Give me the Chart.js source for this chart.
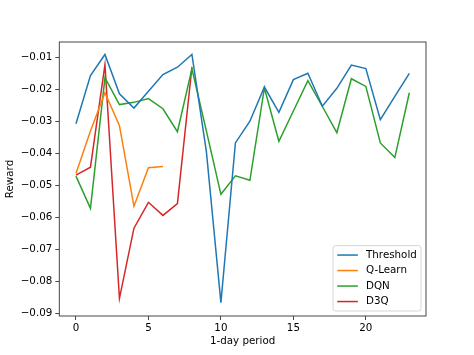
<!DOCTYPE html>
<html>
<head>
<meta charset="utf-8">
<script src="https://cdn.jsdelivr.net/npm/chart.js@4/dist/chart.umd.min.js"></script>
<style>
html,body{margin:0;padding:0;background:#fff;}
canvas{display:block;}
</style>
</head>
<body>
<canvas id="c" width="474" height="355"></canvas>
<script>
const periods = [0,1,2,3,4,5,6,7,8,9,10,11,12,13,14,15,16,17,18,19,20,21,22,23];
const threshold = [-0.0307,-0.0156,-0.0090,-0.0213,-0.0258,-0.0205,-0.0153,-0.0130,-0.0090,-0.0395,-0.0867,-0.0367,-0.0299,-0.0192,-0.0271,-0.0169,-0.0149,-0.0252,-0.0196,-0.0123,-0.0134,-0.0294,-0.0221,-0.0149];
const qlearn = [-0.0463,-0.0330,-0.0210,-0.0313,-0.0565,-0.0445,-0.0441];
const dqn = [-0.0471,-0.0572,-0.0163,-0.0247,-0.0240,-0.0228,-0.0260,-0.0332,-0.0135,-0.0330,-0.0528,-0.0470,-0.0484,-0.0195,-0.0362,-0.0267,-0.0172,-0.0253,-0.0335,-0.0166,-0.0190,-0.0367,-0.0413,-0.0210];
const d3q = [-0.0468,-0.0443,-0.0122,-0.0854,-0.0634,-0.0553,-0.0594,-0.0557,-0.0130];
const xTicks = [0,5,10,15,20];
const yTicks = [-0.09,-0.08,-0.07,-0.06,-0.05,-0.04,-0.03,-0.02,-0.01];
const seriesNames = ['Threshold','Q-Learn','DQN','D3Q'];
const seriesColors = ['#1f77b4','#ff7f0e','#2ca02c','#d62728'];
const seriesValues = [threshold,qlearn,dqn,d3q];

const FONT = 'DejaVu Sans';
const FS = 10.3;

function pts(vals){ return vals.map((v,i)=>({x:periods[i], y:v})); }

const frame = {
  id:'frame',
  afterDatasetsDraw(chart){
    const {ctx, chartArea:a} = chart;
    ctx.save();
    ctx.strokeStyle = '#333';
    ctx.lineWidth = 0.9;
    ctx.strokeRect(a.left, a.top, a.right-a.left, a.bottom-a.top);
    ctx.restore();
  }
};

const innerLegend = {
  id:'innerLegend',
  afterDraw(chart){
    const {ctx, chartArea:a} = chart;
    const ds = chart.data.datasets;
    ctx.save();
    ctx.font = FS + 'px "' + FONT + '"';
    const pad = 4.2, handle = 20.6, gap = 8.2, rowH = 10.5, spacing = 5;
    let maxW = 0;
    ds.forEach(d=>{ maxW = Math.max(maxW, ctx.measureText(d.label).width); });
    const w = pad + handle + gap + maxW + pad;
    const h = pad*2 + ds.length*rowH + (ds.length-1)*spacing;
    const right = a.right - 5, bottom = a.bottom - 5;
    const left = right - w, top = bottom - h;
    const r = 2.5;
    ctx.beginPath();
    ctx.moveTo(left+r, top);
    ctx.lineTo(right-r, top); ctx.arcTo(right, top, right, top+r, r);
    ctx.lineTo(right, bottom-r); ctx.arcTo(right, bottom, right-r, bottom, r);
    ctx.lineTo(left+r, bottom); ctx.arcTo(left, bottom, left, bottom-r, r);
    ctx.lineTo(left, top+r); ctx.arcTo(left, top, left+r, top, r);
    ctx.closePath();
    ctx.fillStyle = 'rgba(255,255,255,0.8)';
    ctx.fill();
    ctx.strokeStyle = '#cccccc';
    ctx.lineWidth = 0.8;
    ctx.stroke();
    ds.forEach((d,i)=>{
      const cy = top + pad + rowH/2 + i*(rowH+spacing);
      ctx.beginPath();
      ctx.moveTo(left+pad, cy);
      ctx.lineTo(left+pad+handle, cy);
      ctx.strokeStyle = d.borderColor;
      ctx.lineWidth = 1.5;
      ctx.stroke();
      ctx.fillStyle = '#000';
      ctx.textBaseline = 'middle';
      ctx.textAlign = 'left';
      ctx.fillText(d.label, left+pad+handle+gap, cy);
    });
    ctx.restore();
  }
};

new Chart(document.getElementById('c'), {
  type:'line',
  data:{
    datasets: seriesNames.map((n,i)=>({
      label:n,
      data:pts(seriesValues[i]),
      borderColor:seriesColors[i],
      backgroundColor:seriesColors[i],
      borderWidth:1.5,
      pointRadius:0,
      pointHoverRadius:0,
      tension:0,
      fill:false
    }))
  },
  options:{
    responsive:false,
    devicePixelRatio:1,
    animation:false,
    events:[],
    layout:{padding:{left:0, top:42, right:48, bottom:0}},
    plugins:{legend:{display:false}, tooltip:{enabled:false}},
    scales:{
      x:{
        type:'linear',
        min:-1.15, max:24.15,
        afterBuildTicks(s){ s.ticks = xTicks.map(v=>({value:v})); },
        afterFit(s){ s.height = 39; },
        grid:{display:true, drawOnChartArea:false, drawTicks:true, tickLength:4, color:'#333', lineWidth:0.9},
        border:{display:false},
        ticks:{color:'#000', font:{family:FONT, size:FS}, padding:2, maxRotation:0, callback:v=>String(v)},
        title:{display:true, text:'1-day period', color:'#000', font:{family:FONT, size:FS}, padding:{top:0,bottom:7}}
      },
      y:{
        type:'linear',
        min:-0.0909, max:-0.0051,
        afterBuildTicks(s){ s.ticks = yTicks.map(v=>({value:v})); },
        afterFit(s){ s.width = 59.3; },
        grid:{display:true, drawOnChartArea:false, drawTicks:true, tickLength:4, color:'#333', lineWidth:0.9},
        border:{display:false},
        ticks:{color:'#000', font:{family:FONT, size:FS}, padding:3, callback:v=>(v<0?'\u2212':'')+Math.abs(v).toFixed(2)},
        title:{display:true, text:'Reward', color:'#000', font:{family:FONT, size:FS}, padding:{top:4,bottom:0}}
      }
    }
  },
  plugins:[frame, innerLegend]
});
</script>
</body>
</html>
